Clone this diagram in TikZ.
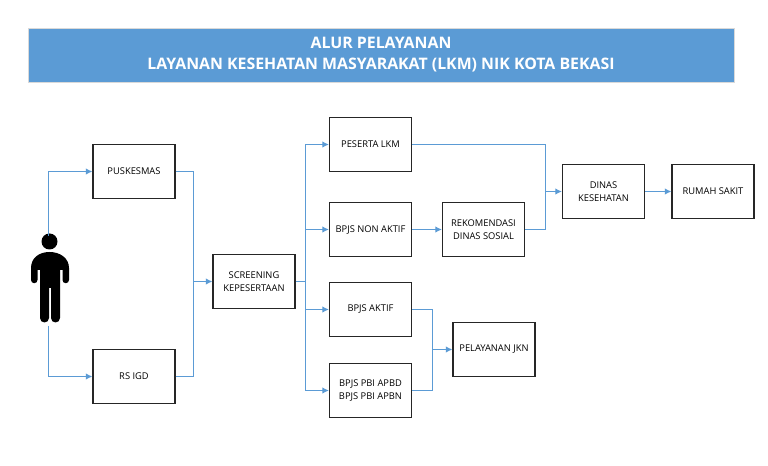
\documentclass[tikz,border=0pt]{standalone}
\usepackage{fontspec}
\setmainfont{Open Sans}
\usetikzlibrary{arrows.meta}
\definecolor{bluebar}{HTML}{5B9BD5}
\definecolor{boxline}{HTML}{262626}
\tikzset{
  x=0.75pt,y=-0.75pt,
  flowbox/.style={draw=boxline,line width=0.85pt,fill=white,minimum width=61.5pt,minimum height=40.5pt,inner sep=0pt,align=center,text=black,font=\fontsize{7}{9.75}\selectfont},
  link/.style={draw=bluebar,line width=1.1pt},
  arrowlink/.style={link,-{Latex[length=5pt,width=5pt]}}
}
\begin{document}
\begin{tikzpicture}
\useasboundingbox (0,0) rectangle (768,466);
\fill[white] (0,0) rectangle (768,466);
\node[draw=black!15,line width=0.4pt,fill=bluebar,minimum width=529.5pt,minimum height=40.5pt,inner sep=0pt,align=center,text=white,font=\fontsize{11.9}{15.75}\selectfont\bfseries] (title) at (381,55) {ALUR PELAYANAN\\LAYANAN KESEHATAN MASYARAKAT (LKM) NIK KOTA BEKASI};
\node[flowbox] (pusk) at (134,171.5) {PUSKESMAS};
\node[flowbox] (rsigd) at (134,376.5) {RS IGD};
\node[flowbox] (screen) at (254,281.5) {SCREENING\\KEPESERTAAN};
\node[flowbox] (peserta) at (370.5,144.5) {PESERTA LKM};
\node[flowbox] (nonaktif) at (370.5,229.5) {BPJS NON AKTIF};
\node[flowbox] (aktif) at (370.5,309.5) {BPJS AKTIF};
\node[flowbox] (pbi) at (370.5,390.5) {BPJS PBI APBD\\BPJS PBI APBN};
\node[flowbox] (rekom) at (483.5,229.5) {REKOMENDASI\\DINAS SOSIAL};
\node[flowbox] (jkn) at (494,349.5) {PELAYANAN JKN};
\node[flowbox] (dinas) at (603.5,191.5) {DINAS\\KESEHATAN};
\node[flowbox] (rs) at (713,191.5) {RUMAH SAKIT};
% person
\fill[black] (49.5,241.5) circle (8);
\fill[black]
  (40,318) -- (40,270) -- (37.5,270) -- (37.5,280)
  arc[start angle=0,end angle=-180,x radius=3.25,y radius=-3.25]
  -- (31,268) .. controls (31,258) and (39,252) .. (49.5,252)
  .. controls (60,252) and (69,258) .. (69,268)
  -- (69,280) arc[start angle=0,end angle=-180,x radius=3.25,y radius=-3.25]
  -- (62.5,270) -- (60,270) -- (60,318)
  arc[start angle=0,end angle=-180,x radius=4.5,y radius=-4.5]
  -- (51,288) -- (49,288) -- (49,318)
  arc[start angle=0,end angle=-180,x radius=4.5,y radius=-4.5] -- cycle;
\coordinate (ptop) at (48.5,236);
\coordinate (pbot) at (48.5,326);
\draw[arrowlink] (ptop) |- (pusk.west);
\draw[arrowlink] (pbot) |- (rsigd.west);
\coordinate (m1) at (193.5,281.5);
\draw[link] (pusk.east) -| (m1);
\draw[link] (rsigd.east) -| (m1);
\draw[arrowlink] (m1) -- (screen.west);
\coordinate (m2) at (305.5,281.5);
\draw[link] (screen.east) -- (m2);
\draw[arrowlink] (m2) |- (peserta.west);
\draw[arrowlink] (m2) |- (nonaktif.west);
\draw[arrowlink] (m2) |- (aktif.west);
\draw[arrowlink] (m2) |- (pbi.west);
\draw[arrowlink] (nonaktif.east) -- (rekom.west);
\coordinate (m3) at (545.5,191.5);
\draw[link] (peserta.east) -| (m3);
\draw[link] (rekom.east) -| (m3);
\draw[arrowlink] (m3) -- (dinas.west);
\draw[arrowlink] (dinas.east) -- (rs.west);
\coordinate (m4) at (432.5,349.5);
\draw[link] (aktif.east) -| (m4);
\draw[link] (pbi.east) -| (m4);
\draw[arrowlink] (m4) -- (jkn.west);
\end{tikzpicture}
\end{document}
